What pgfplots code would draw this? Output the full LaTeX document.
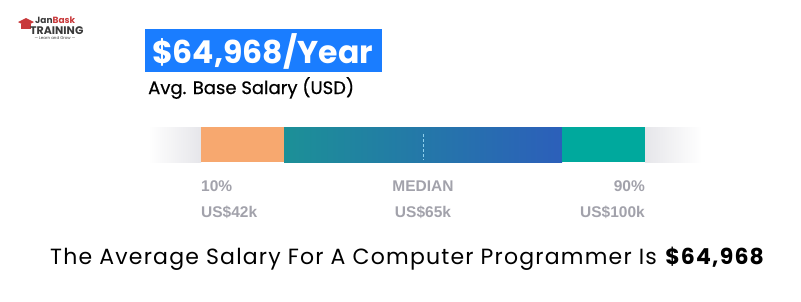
\documentclass[border=0pt]{standalone}
\usepackage{pgfplots}
\pgfplotsset{compat=1.18}
\usepackage{fontspec}
\setmainfont{Poppins}
\newfontfamily\lab{Liberation Sans}
\newfontfamily\popmed[FakeBold=0.5]{Poppins}
\newfontfamily\popsp[LetterSpace=5.5]{Poppins}
\definecolor{boxblue}{HTML}{1A7DFF}
\definecolor{orng}{HTML}{F7A86F}
\definecolor{gradL}{HTML}{1C9097}
\definecolor{gradR}{HTML}{2C5FBA}
\definecolor{teal9}{HTML}{00A99D}
\definecolor{labgray}{HTML}{A2A2AB}
\definecolor{fadegray}{HTML}{E6E6EA}
\definecolor{medline}{HTML}{8FD0EC}
\definecolor{logored}{HTML}{C8383A}
\definecolor{logogray}{HTML}{3A3A3A}
\begin{document}
\begin{tikzpicture}
\begin{axis}[
  scale only axis, width=801pt, height=301pt,
  xmin=0, xmax=801, ymin=0, ymax=301, y dir=reverse,
  hide axis, clip=false]
% background
\addplot[fill=white, draw=none] coordinates {(0,0) (801,0) (801,301) (0,301)} -- cycle;
% fades
\addplot[draw=none, left color=white, right color=fadegray] coordinates {(148,127) (201,127) (201,162) (148,162)} -- cycle;
\addplot[draw=none, left color=fadegray, right color=white] coordinates {(645,127) (702,127) (702,162) (645,162)} -- cycle;
% segments: 10th pct to 25th, 25th to 75th, 75th to 90th
\addplot[draw=none, fill=orng] coordinates {(201,127) (284,127) (284,162) (201,162)} -- cycle;
\addplot[draw=none, left color=gradL, right color=gradR] coordinates {(284,127) (562,127) (562,162) (284,162)} -- cycle;
\addplot[draw=none, fill=teal9] coordinates {(562,127) (645,127) (645,162) (562,162)} -- cycle;
% median
\addplot[medline, densely dashed, line width=1pt] coordinates {(423,134) (423,160)};
% labels
\node[anchor=base west, text=labgray, font=\lab\bfseries\fontsize{15.5}{16}\selectfont, inner sep=0pt] at (axis cs:201,191) {10\%};
\node[anchor=base west, text=labgray, font=\lab\bfseries\fontsize{15.5}{16}\selectfont, inner sep=0pt] at (axis cs:201,217) {US\$42k};
\node[anchor=base, text=labgray, font=\lab\bfseries\fontsize{15.5}{16}\selectfont, inner sep=0pt] at (axis cs:423,191) {MEDIAN};
\node[anchor=base, text=labgray, font=\lab\bfseries\fontsize{15.5}{16}\selectfont, inner sep=0pt] at (axis cs:423,217) {US\$65k};
\node[anchor=base east, text=labgray, font=\lab\bfseries\fontsize{15.5}{16}\selectfont, inner sep=0pt] at (axis cs:645,191) {90\%};
\node[anchor=base east, text=labgray, font=\lab\bfseries\fontsize{15.5}{16}\selectfont, inner sep=0pt] at (axis cs:645,217) {US\$100k};
% title box
\addplot[fill=boxblue, draw=none] coordinates {(145,29) (382,29) (382,72) (145,72)} -- cycle;
\node[anchor=base west, text=white, font=\bfseries\fontsize{31.5}{32}\selectfont, inner sep=0pt] at (axis cs:152,63) {\$64,968/Year};
\node[anchor=base west, text=black, font=\popmed\fontsize{18}{19}\selectfont, inner sep=0pt] at (axis cs:148,94) {Avg. Base Salary (USD)};
% bottom sentence
\node[anchor=base west, text=black, font=\popsp\fontsize{22}{23}\selectfont, inner sep=0pt] at (axis cs:50,264) {The Average Salary For A Computer Programmer Is \textbf{\$64,968}};
% logo
\addplot[fill=logored, draw=none] coordinates {(18,22) (26,18) (34,22) (26,26)} -- cycle;
\addplot[fill=logored, draw=none] coordinates {(21,24) (31,24) (31,29) (21,29)} -- cycle;
\node[anchor=base west, inner sep=0pt, font=\bfseries\fontsize{9}{10}\selectfont] at (axis cs:35,23) {\textcolor{logogray}{Jan}\textcolor{logored}{Bask}};
\node[anchor=base west, inner sep=0pt, text=logogray, font=\bfseries\fontsize{11}{12}\selectfont] at (axis cs:30,34) {TRAINING};
\node[anchor=base, inner sep=0pt, text=logogray, font=\fontsize{4}{5}\selectfont] at (axis cs:55,39.5) {--- Learn and Grow ---};
\end{axis}
\end{tikzpicture}
\end{document}
